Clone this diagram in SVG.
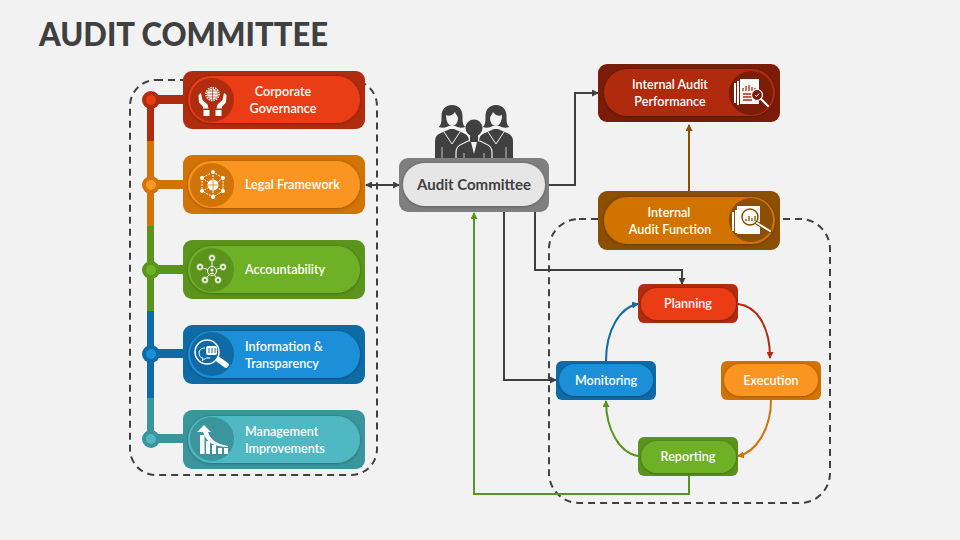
<svg xmlns="http://www.w3.org/2000/svg" width="960" height="540" viewBox="0 0 960 540">
<style>
text{font-family:"Lato","Open Sans","Liberation Sans",sans-serif;font-weight:600;fill:#fff;font-size:12.600px;text-anchor:middle}
.l{text-anchor:start}
.title{font-size:33px;fill:#404040;text-anchor:start;font-weight:900}
.dash{fill:none;stroke:#404040;stroke-width:2;stroke-dasharray:7 5}
.c{fill:none;stroke-width:2}
.ic{fill:#fff;stroke:none}
.il{fill:none;stroke:#fff;stroke-width:1}
.pill{filter:url(#sh)}
.red .card{fill:#b02c0e}.red .pill{fill:#ea3c13}.red .disc{fill:#b02c0e}
.org .card{fill:#d27305}.org .pill{fill:#fb9523}.org .disc{fill:#d27305}
.grn .card{fill:#5b941c}.grn .pill{fill:#6eb027}.grn .disc{fill:#5b941c}
.blu .card{fill:#0f6ba6}.blu .pill{fill:#1a8fd9}.blu .disc{fill:#0f6ba6}
.tea .card{fill:#3a959d}.tea .pill{fill:#4fb8c2}.tea .disc{fill:#3a959d}
</style>
<defs>
<filter id="sh" x="-10%" y="-20%" width="120%" height="140%"><feDropShadow dx="0" dy="0.5" stdDeviation="1.500" flood-color="#000" flood-opacity="0.35"/></filter>
<marker id="aD" markerWidth="7" markerHeight="7" refX="6" refY="3.500" orient="auto-start-reverse" markerUnits="userSpaceOnUse"><path d="M0 0L7 3.500L0 7z" fill="#404040"/></marker>
<marker id="aR" markerWidth="7" markerHeight="7" refX="6" refY="3.500" orient="auto" markerUnits="userSpaceOnUse"><path d="M0 0L7 3.500L0 7z" fill="#b02c0e"/></marker>
<marker id="aO" markerWidth="7" markerHeight="7" refX="6" refY="3.500" orient="auto" markerUnits="userSpaceOnUse"><path d="M0 0L7 3.500L0 7z" fill="#d27305"/></marker>
<marker id="aG" markerWidth="7" markerHeight="7" refX="6" refY="3.500" orient="auto" markerUnits="userSpaceOnUse"><path d="M0 0L7 3.500L0 7z" fill="#5b941c"/></marker>
<marker id="aB" markerWidth="7" markerHeight="7" refX="6" refY="3.500" orient="auto" markerUnits="userSpaceOnUse"><path d="M0 0L7 3.500L0 7z" fill="#0f6ba6"/></marker>
<marker id="aW" markerWidth="7" markerHeight="7" refX="6" refY="3.500" orient="auto" markerUnits="userSpaceOnUse"><path d="M0 0L7 3.500L0 7z" fill="#8a4f00"/></marker>
<g id="woman">
<path d="M-17 46V24q0-6 6-8l9-4h4l9 4q6 2 6 8v22z" fill="#404040"/>
<path d="M0 0c-7 0-10.500 5-10.500 11 0 5 0 9-3 11 4 1 7 1 10-1h7c3 2 6 2 10 1-3-2-3-6-3-11 0-6-3.500-11-10.500-11z" fill="#404040" transform="translate(0 -12)"/>
<path d="M-6 -2c3 2 7 0 9-3 1 3 3 4 3 6 0 5-3 8-6 8s-6-4-6-11z" fill="#f2f2f2"/>
<path d="M-8 15L0 27L8 15" fill="none" stroke="#f2f2f2" stroke-width="1"/>
<path d="M-10 30V46" stroke="#bfbfbf" stroke-width="1"/>
</g>
</defs>
<rect width="960" height="540" fill="#f2f2f2"/>
<text class="title" x="39" y="46" textLength="289" lengthAdjust="spacingAndGlyphs">AUDIT COMMITTEE</text>

<rect class="dash" x="130" y="80" width="247" height="395" rx="26"/>
<rect class="dash" x="549" y="219" width="281" height="284" rx="30"/>

<g id="timeline">
<rect x="147" y="100" width="7" height="41" fill="#b02c0e"/>
<rect x="147" y="141" width="7" height="85" fill="#d27305"/>
<rect x="147" y="226" width="7" height="85" fill="#5b941c"/>
<rect x="147" y="311" width="7" height="87" fill="#0f6ba6"/>
<rect x="147" y="398" width="7" height="41" fill="#3a959d"/>
<rect x="151" y="95" width="34" height="9" fill="#b02c0e"/>
<rect x="151" y="180" width="34" height="9" fill="#d27305"/>
<rect x="151" y="265" width="34" height="9" fill="#5b941c"/>
<rect x="151" y="349" width="34" height="9" fill="#0f6ba6"/>
<rect x="151" y="434" width="34" height="9" fill="#3a959d"/>
<circle cx="151" cy="100" r="9" fill="#b02c0e"/><circle cx="151" cy="100" r="5" fill="#ea3c13"/>
<circle cx="151" cy="185" r="9" fill="#d27305"/><circle cx="151" cy="185" r="5" fill="#fb9523"/>
<circle cx="151" cy="270" r="9" fill="#5b941c"/><circle cx="151" cy="270" r="5" fill="#6eb027"/>
<circle cx="151" cy="354" r="9" fill="#0f6ba6"/><circle cx="151" cy="354" r="5" fill="#1a8fd9"/>
<circle cx="151" cy="439" r="9" fill="#3a959d"/><circle cx="151" cy="439" r="5" fill="#4fb8c2"/>
</g>

<g id="connectors">
<path class="c" stroke="#404040" d="M549 185H575V93H598" marker-end="url(#aD)"/>
<path class="c" stroke="#404040" d="M366 185H399" marker-start="url(#aD)" marker-end="url(#aD)"/>
<path class="c" stroke="#404040" d="M504 212V380H556" marker-end="url(#aD)"/>
<path class="c" stroke="#404040" d="M535 212V270H682V284" marker-end="url(#aD)"/>
<path class="c" stroke="#5b941c" d="M689 476V494H474V213" marker-end="url(#aG)"/>
<path class="c" stroke="#8a4f00" d="M689 191V125" marker-end="url(#aW)"/>
<path class="c" stroke="#b02c0e" d="M738 304C756 306 770 325 770 358" marker-end="url(#aR)"/>
<path class="c" stroke="#d27305" d="M771 400C771 430 755 453 738 456" marker-end="url(#aO)"/>
<path class="c" stroke="#5b941c" d="M638 456C620 453 606 430 606 401" marker-end="url(#aG)"/>
<path class="c" stroke="#0f6ba6" d="M606 361C606 330 620 307 638 304" marker-end="url(#aB)"/>
</g>

<g id="corporate-governance" class="red">
<rect class="card" x="183" y="71" width="182" height="58" rx="9"/>
<rect class="pill" x="188" y="76" width="172" height="47" rx="23.500"/>
<circle class="disc" cx="212" cy="100" r="22"/>
<circle cx="212.500" cy="94" r="6.500" fill="none" stroke="#fff" stroke-width="1.500" stroke-dasharray="1.500 1"/>
<circle class="ic" cx="212.500" cy="94" r="5.500"/>
<path d="M207 94H218M212.500 88.500V99.500M208 91H217M208 97H217" fill="none" stroke="#b02c0e" stroke-width=".7"/>
<path class="ic" d="M201 93l1.500 7 5 4.500 1 4h-5.500v-2l-4-4-.5-7.500zM224 93l-1.500 7-5 4.500-1 4h5.500v-2l4-4 .5-7.500z"/>
<rect class="ic" x="203.500" y="110" width="6" height="6"/><rect class="ic" x="215.500" y="110" width="6" height="6"/>
<text x="283" y="96">Corporate</text><text x="283" y="113">Governance</text>
</g>

<g id="legal-framework" class="org">
<rect class="card" x="183" y="155" width="182" height="59" rx="9"/>
<rect class="pill" x="188" y="161" width="172" height="47" rx="23.500"/>
<circle class="disc" cx="212" cy="185" r="22"/>
<path class="il" d="M213 172L223 178V191L213 197L202 191V178ZM213 172V179M213 191V197M202 178L208 182M223 178L218 182M202 191L208 188M223 191L218 188" stroke-dasharray="2 1"/>
<circle class="ic" cx="213" cy="185" r="5.500"/>
<path d="M208 185H218M213 180V190" stroke="#d27305" stroke-width=".7"/>
<g class="ic"><circle cx="213" cy="172" r="2"/><circle cx="223" cy="178" r="2"/><circle cx="223" cy="191" r="2"/><circle cx="213" cy="197" r="2"/><circle cx="202" cy="191" r="2"/><circle cx="202" cy="178" r="2"/></g>
<text class="l" x="245" y="189">Legal Framework</text>
</g>

<g id="accountability" class="grn">
<rect class="card" x="183" y="240" width="182" height="59" rx="9"/>
<rect class="pill" x="188" y="246" width="172" height="47" rx="23.500"/>
<circle class="disc" cx="212" cy="270" r="22"/>
<path class="il" d="M212 271V258M212 271L200 267M212 271L223 267M212 271L205 280M212 271L218 280"/>
<g fill="#fff" stroke="#5b941c" stroke-width=".6"><circle cx="212" cy="258" r="3.400"/><circle cx="200" cy="267" r="3.400"/><circle cx="223" cy="267" r="3.400"/><circle cx="205" cy="280" r="3.400"/><circle cx="218" cy="280" r="3.400"/></g>
<g fill="#5b941c"><circle cx="212" cy="258" r="1.500"/><circle cx="200" cy="267" r="1.500"/><circle cx="223" cy="267" r="1.500"/><circle cx="205" cy="280" r="1.500"/><circle cx="218" cy="280" r="1.500"/></g>
<circle cx="212" cy="271" r="4.500" fill="#5b941c" stroke="#fff"/>
<circle class="ic" cx="212" cy="270" r="1.500"/><path class="ic" d="M209.500 274q2.500-3 5 0z"/>
<text class="l" x="245" y="274">Accountability</text>
</g>

<g id="information-transparency" class="blu">
<rect class="card" x="183" y="325" width="182" height="59" rx="9"/>
<rect class="pill" x="188" y="331" width="172" height="47" rx="23.500"/>
<circle class="disc" cx="212" cy="354" r="22"/>
<circle cx="207" cy="352" r="12" fill="none" stroke="#fff" stroke-width="1.500"/>
<rect class="ic" x="206" y="346" width="11" height="9" rx="2"/>
<path d="M209 348v5M212 348v5M215 348v5" stroke="#0f6ba6" stroke-width="1"/>
<path d="M199 352a6 6 0 0 1 6-4M199 352q0 6 4 6l-1 3 4-3h4" class="il"/>
<path d="M219 360L226 365" stroke="#fff" stroke-width="5.500" stroke-linecap="round"/>
<text class="l" x="245" y="351">Information &amp;</text><text class="l" x="245" y="368">Transparency</text>
</g>

<g id="management-improvements" class="tea">
<rect class="card" x="183" y="410" width="182" height="59" rx="9"/>
<rect class="pill" x="188" y="416" width="172" height="47" rx="23.500"/>
<circle class="disc" cx="212" cy="439" r="22"/>
<path class="ic" d="M197 432L204 425L211 432H208C210 439 216 444 228 446V447C214 447 206 442 203 432Z"/>
<path class="ic" d="M200 435h4.500v19h-4.500zM206 441h4v13h-4zM212 445h4v9h-4zM218 448h4v6h-4zM224 448h4v6h-4z"/>
<text class="l" x="245" y="436">Management</text><text class="l" x="245" y="453">Improvements</text>
</g>

<g id="audit-committee">
<use href="#woman" x="452" y="117"/>
<g transform="translate(992 0) scale(-1 1)"><use href="#woman" x="496" y="117"/></g>
<path d="M456 163v-10q0-7 6-9l6-3h12l6 3q6 2 6 9v10z" fill="#404040" stroke="#f2f2f2" stroke-width="1.200"/>
<circle cx="474" cy="128" r="8.500" fill="#404040"/><rect x="470" y="132" width="8" height="10" fill="#404040"/>
<path d="M471 142l3 12 3-12z" fill="#f2f2f2"/>
<path d="M464 153V163M484 153V163" stroke="#bfbfbf" stroke-width="1"/>
<rect x="399" y="158" width="150" height="54" rx="9" fill="#7f7f7f"/>
<rect class="pill" x="403" y="163" width="142" height="43" rx="21.500" fill="#e6e6e6"/>
<text x="474" y="190" style="fill:#404040;font-size:15px;font-weight:700">Audit Committee</text>
</g>

<g id="internal-audit-performance">
<rect x="598" y="64" width="182" height="58" rx="9" fill="#7a1c08"/>
<rect class="pill" x="604" y="69" width="171" height="47" rx="23.500" fill="#b02c0e"/>
<circle cx="751" cy="93" r="22" fill="#7a1c08"/>
<path class="ic" d="M734 83h2v20h-2zM737 81h2v24h-2z"/>
<rect class="ic" x="740" y="79" width="19" height="25"/>
<path d="M743 91v-3M746 91v-5M749 91v-6M752 91v-4M755 91v-3M743 94h13M743 97h10M743 100h9" stroke="#b02c0e" stroke-width="1.300" fill="none"/>
<circle cx="757" cy="95" r="5.500" fill="#7a1c08" stroke="#fff" stroke-width="1.200"/>
<path d="M755 95l1.500 1.500 2.500-3" stroke="#fff" fill="none"/>
<path d="M761 99L768 106" stroke="#fff" stroke-width="2" stroke-linecap="round"/>
<text x="670" y="89">Internal Audit</text><text x="670" y="106">Performance</text>
</g>

<g id="internal-audit-function">
<rect x="598" y="191" width="182" height="59" rx="9" fill="#8a4f00"/>
<rect class="pill" x="604" y="197" width="171" height="47" rx="23.500" fill="#d27305"/>
<circle cx="751" cy="220" r="22" fill="#8a4f00"/>
<path class="ic" d="M732 212h2v19h-2zM735 210h2v23h-2z"/>
<rect class="ic" x="737" y="206" width="23" height="28"/>
<circle cx="750" cy="217" r="8" fill="#fff" stroke="#8a4f00" stroke-width="1.500"/>
<path d="M746 221v-2M749 221v-5M752 221v-3M755 221v-5" stroke="#8a4f00" stroke-width="1.300"/>
<path d="M757 223L770 231" stroke="#8a4f00" stroke-width="4" stroke-linecap="round"/>
<path d="M757 223L770 231" stroke="#fff" stroke-width="2" stroke-linecap="round"/>
<text x="669" y="217">Internal</text><text x="670" y="234">Audit Function</text>
</g>

<g id="planning" class="red">
<rect class="card" x="638" y="284" width="100" height="39" rx="6"/>
<rect class="pill" x="641" y="288" width="95" height="32" rx="16"/>
<text x="688" y="308">Planning</text>
</g>
<g id="execution" class="org">
<rect class="card" x="721" y="361" width="100" height="39" rx="6"/>
<rect class="pill" x="724" y="364" width="94" height="32" rx="16"/>
<text x="771" y="385">Execution</text>
</g>
<g id="reporting" class="grn">
<rect class="card" x="638" y="437" width="100" height="39" rx="6"/>
<rect class="pill" x="641" y="441" width="95" height="32" rx="16"/>
<text x="688" y="461">Reporting</text>
</g>
<g id="monitoring" class="blu">
<rect class="card" x="556" y="361" width="100" height="39" rx="6"/>
<rect class="pill" x="559" y="364" width="94" height="32" rx="16"/>
<text x="606" y="385">Monitoring</text>
</g>
</svg>
